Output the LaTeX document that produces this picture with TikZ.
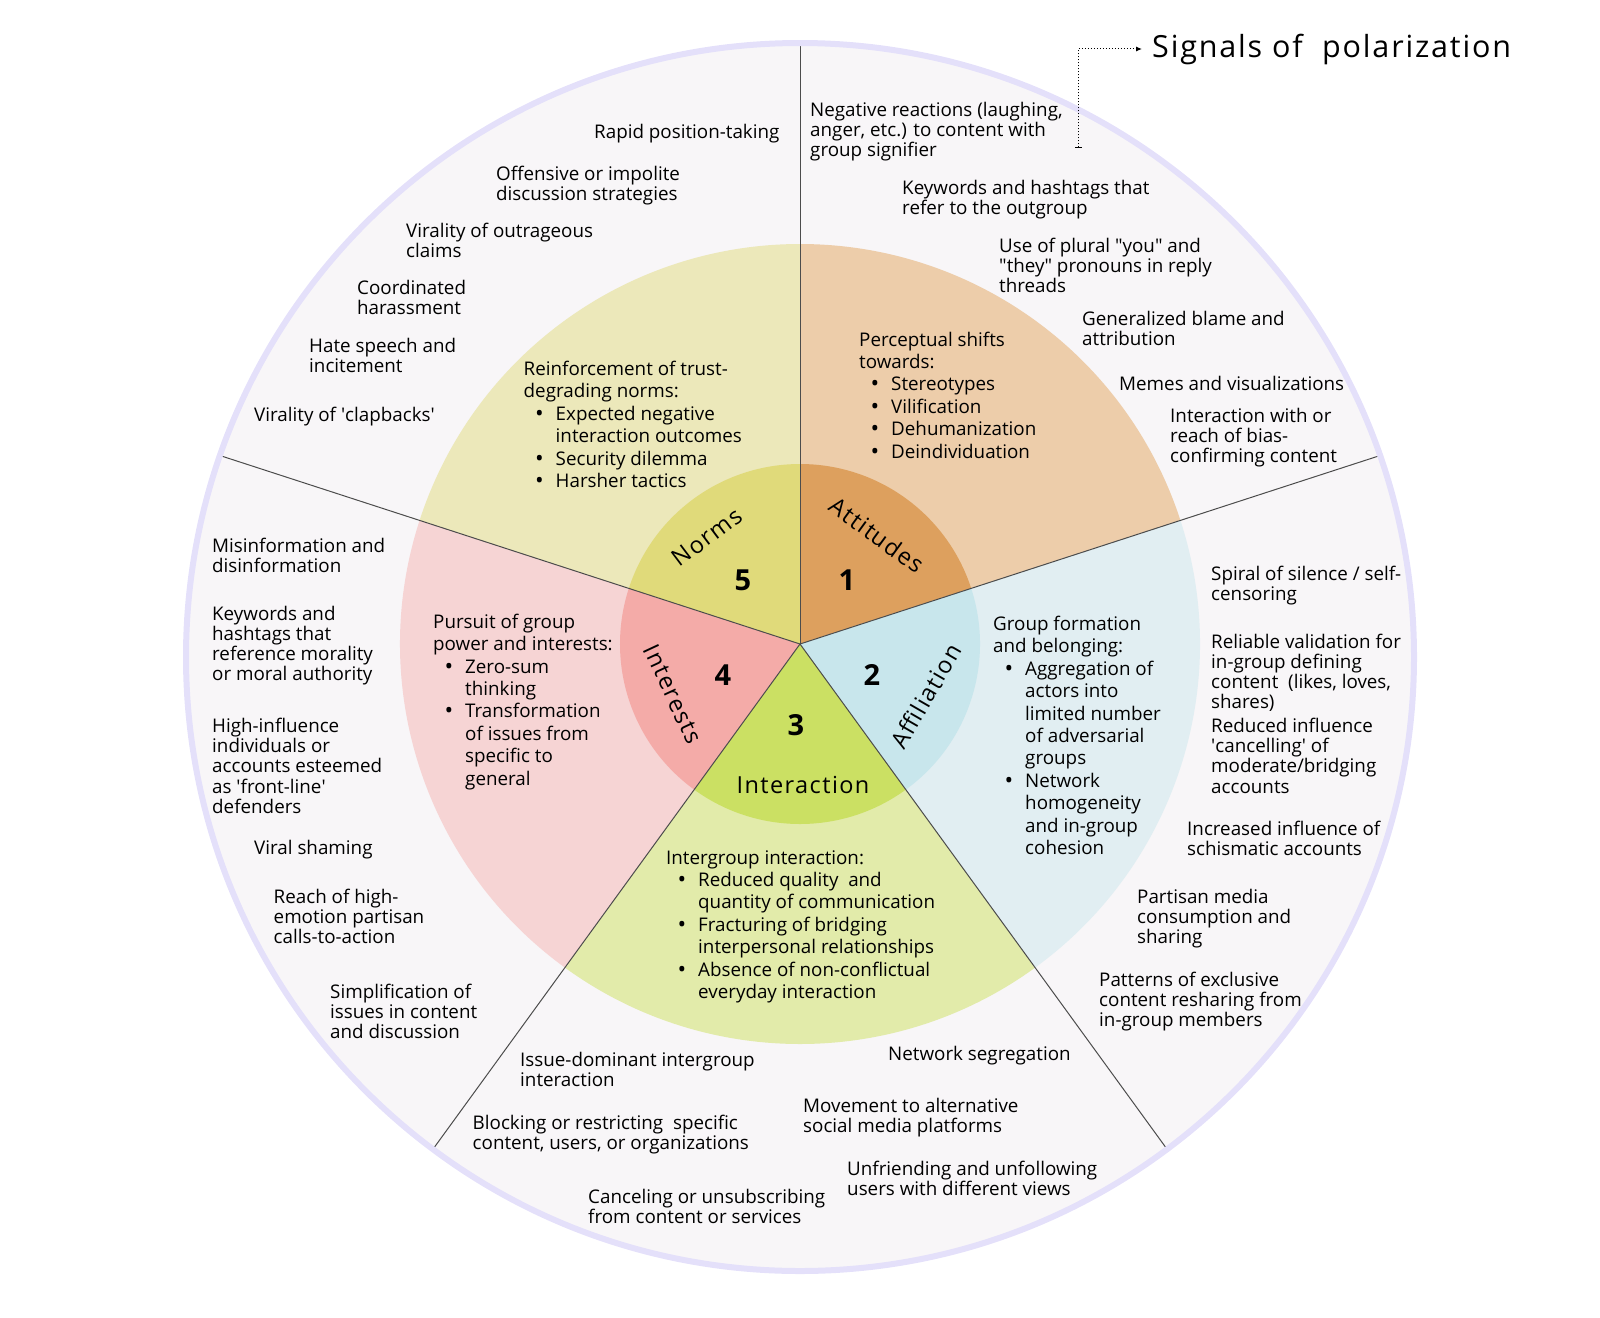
\documentclass[tikz,border=0pt]{standalone}
\usepackage{fontspec}
\setmainfont{Open Sans}
\newfontfamily\spacedfont[LetterSpace=6]{Open Sans}
\usetikzlibrary{arrows.meta}

% Colores: anillo exterior, borde y cuñas (claro = anillo medio, fuerte = núcleo)
\definecolor{anillo}{RGB}{248,246,248}
\definecolor{borde}{RGB}{228,224,250}
\definecolor{attclaro}{RGB}{237,205,170}
\definecolor{attfuerte}{RGB}{221,160,94}
\definecolor{affclaro}{RGB}{225,238,242}
\definecolor{afffuerte}{RGB}{200,230,236}
\definecolor{intclaro}{RGB}{226,235,170}
\definecolor{intfuerte}{RGB}{203,224,99}
\definecolor{itsclaro}{RGB}{246,212,212}
\definecolor{itsfuerte}{RGB}{244,171,168}
\definecolor{nrmclaro}{RGB}{236,232,186}
\definecolor{nrmfuerte}{RGB}{224,218,122}

% Viñetas y sangría de las listas
\newcommand{\bul}{\makebox[32pt][l]{\hspace{11.5pt}\raisebox{-1pt}{\fontsize{23}{20}\selectfont\textbullet}}}
\newcommand{\ind}{\hspace*{32pt}}
\newcommand{\comillas}[1]{\textquotedbl#1\textquotedbl}

% Nota: la base de un nodo de varias líneas es la de su última línea
\tikzset{
  signo/.style={anchor=base west, align=left, inner sep=0pt, font=\fontsize{18.8}{20.2}\selectfont},
  bloque/.style={anchor=base west, align=left, inner sep=0pt, font=\fontsize{18.8}{22.4}\selectfont},
  dimension/.style={inner sep=0pt, font=\spacedfont\fontsize{23.5}{26}\selectfont},
  numero/.style={inner sep=0pt, font=\bfseries\fontsize{29}{32}\selectfont}
}

\begin{document}
\begin{tikzpicture}[x=1pt, y=-1pt]
  % Parámetros: radios y centros (en píxeles, y hacia abajo)
  \def\rext{614}   % círculo exterior
  \def\rmed{400}   % anillo medio
  \def\rint{180}   % núcleo
  \coordinate (C) at (800,644);   % centro de las cuñas
  \coordinate (O) at (800,657);   % centro del círculo exterior

  % Marco con las proporciones de la figura
  \useasboundingbox (0,0) rectangle (1600,1317);

  % Fondo del anillo exterior
  \fill[anillo] (O) circle [radius=\rext];

  % Cuñas de 72 grados: anillo medio y núcleo
  \foreach \a/\b/\claro/\fuerte in {-90/-18/attclaro/attfuerte, -18/54/affclaro/afffuerte,
      54/126/intclaro/intfuerte, 126/198/itsclaro/itsfuerte, 198/270/nrmclaro/nrmfuerte}{
    \fill[\claro] (C) -- ++(\a:\rmed) arc [start angle=\a, end angle=\b, radius=\rmed] -- cycle;
    \fill[\fuerte] (C) -- ++(\a:\rint) arc [start angle=\a, end angle=\b, radius=\rint] -- cycle;
  }

  % Rayos divisorios, recortados por el círculo exterior
  \begin{scope}
    \clip (O) circle [radius=\rext];
    \foreach \a in {-90,-18,54,126,198}
      \draw[line width=1pt, black!70] (C) -- ++(\a:700);
  \end{scope}

  % Borde lavanda
  \draw[borde, line width=6pt] (O) circle [radius=\rext];

  % Títulos del núcleo y números
  \node[dimension, rotate=-36] (lbatt) at (877,535) {Attitudes};
  \node[dimension, rotate=37]  (lbnrm) at (707,537) {Norms};
  \node[dimension, rotate=60]  (lbaff) at (926,696) {Affiliation};
  \node[dimension, rotate=-65] (lbits) at (673,694) {Interests};
  \node[dimension]             (lbint) at (803,785) {Interaction};
  \node[numero] (n1) at (847,580) {1};
  \node[numero] (n2) at (872,675) {2};
  \node[numero] (n3) at (796,725) {3};
  \node[numero] (n4) at (723,675) {4};
  \node[numero] (n5) at (743,580) {5};

  % Anillo medio: descripciones
  \node[bloque] (percep) at (859,458) {Perceptual shifts\\towards:\\\bul Stereotypes\\\bul Vilification\\\bul Dehumanization\\\bul Deindividuation};
  \node[bloque] (trustnorm) at (523.5,487.5) {Reinforcement of trust-\\degrading norms:\\\bul Expected negative\\\ind interaction outcomes\\\bul Security dilemma\\\bul Harsher tactics};
  \node[bloque] (pursuit) at (433,785) {Pursuit of group\\power and interests:\\\bul Zero-sum\\\ind thinking\\\bul Transformation\\\ind of issues from\\\ind specific to\\\ind general};
  \node[bloque] (groupform) at (993,854.5) {Group formation\\and belonging:\\\bul Aggregation of\\\ind actors into\\\ind limited number\\\ind of adversarial\\\ind groups\\\bul Network\\\ind homogeneity\\\ind and in-group\\\ind cohesion};
  \node[bloque] (intergroup) at (666,998.5) {Intergroup interaction:\\\bul Reduced quality\ \ and\\\ind quantity of communication\\\bul Fracturing of bridging\\\ind interpersonal relationships\\\bul Absence of non-conflictual\\\ind everyday interaction};

  % Anillo exterior: Attitudes
  \node[signo] (negreact) at (810,156.4) {Negative reactions (laughing,\\anger, etc.) to content with\\group signifier};
  \node[signo] (kwout) at (902,214.2) {Keywords and hashtags that\\refer to the outgroup};
  \node[signo] (plural) at (999,292.4) {Use of plural \comillas{you} and\\\comillas{they} pronouns in reply\\threads};
  \node[signo] (blame) at (1082,345.2) {Generalized blame and\\attribution};
  \node[signo] (memes) at (1119,390) {Memes and visualizations};
  \node[signo] (biasconf) at (1170,462.4) {Interaction with or\\reach of bias-\\confirming content};

  % Anillo exterior: Norms
  \node[signo] (rapid) at (594,138) {Rapid position-taking};
  \node[signo] (offens) at (496,200.7) {Offensive or impolite\\discussion strategies};
  \node[signo] (outrage) at (406,257.2) {Virality of outrageous\\claims};
  \node[signo] (harass) at (357,314.2) {Coordinated\\harassment};
  \node[signo] (hate) at (309,372.2) {Hate speech and\\incitement};
  \node[signo] (clapback) at (254,421) {Virality of \textquotesingle clapbacks\textquotesingle};

  % Anillo exterior: Interests
  \node[signo] (misinfo) at (212,572.2) {Misinformation and\\disinformation};
  \node[signo] (kwmoral) at (212,680.6) {Keywords and\\hashtags that\\reference morality\\or moral authority};
  \node[signo] (frontline) at (212,813.3) {High-influence\\individuals or\\accounts esteemed\\as \textquotesingle front-line\textquotesingle\\defenders};
  \node[signo] (shaming) at (254,854) {Viral shaming};
  \node[signo] (emotion) at (273.5,943.4) {Reach of high-\\emotion partisan\\calls-to-action};
  \node[signo] (simplif) at (330,1038.4) {Simplification of\\issues in content\\and discussion};

  % Anillo exterior: Interaction
  \node[signo] (issuedom) at (520,1086.2) {Issue-dominant intergroup\\interaction};
  \node[signo] (segreg) at (888,1060) {Network segregation};
  \node[signo] (blocking) at (472.5,1149.7) {Blocking or restricting\ \ specific\\content, users, or organizations};
  \node[signo] (movement) at (803,1132.2) {Movement to alternative\\social media platforms};
  \node[signo] (unfriend) at (847,1195.2) {Unfriending and unfollowing\\users with different views};
  \node[signo] (cancel) at (588,1223.2) {Canceling or unsubscribing\\from content or services};

  % Anillo exterior: Affiliation
  \node[signo] (spiral) at (1211,600.7) {Spiral of silence / self-\\censoring};
  \node[signo] (validation) at (1211,708.6) {Reliable validation for\\in-group defining\\content\ \ (likes, loves,\\shares)};
  \node[signo] (reduced) at (1211,793.1) {Reduced influence\\\textquotesingle cancelling\textquotesingle\ of\\moderate/bridging\\accounts};
  \node[signo] (schism) at (1187,855.2) {Increased influence of\\schismatic accounts};
  \node[signo] (partisan) at (1137,943.4) {Partisan media\\consumption and\\sharing};
  \node[signo] (reshare) at (1099,1026.4) {Patterns of exclusive\\content resharing from\\in-group members};

  % Leyenda con flecha punteada
  \node[anchor=base west, inner xsep=10pt, inner ysep=0pt, font=\spacedfont\fontsize{30.5}{36}\selectfont] (title) at (1142,57) {Signals of\ \ polarization};
  \coordinate (tick) at (1078,148);
  \draw[dotted, line width=1pt, {Bar[width=7pt]}-{Latex[length=6pt,width=5pt]}] (tick) |- (title.west);
\end{tikzpicture}
\end{document}
